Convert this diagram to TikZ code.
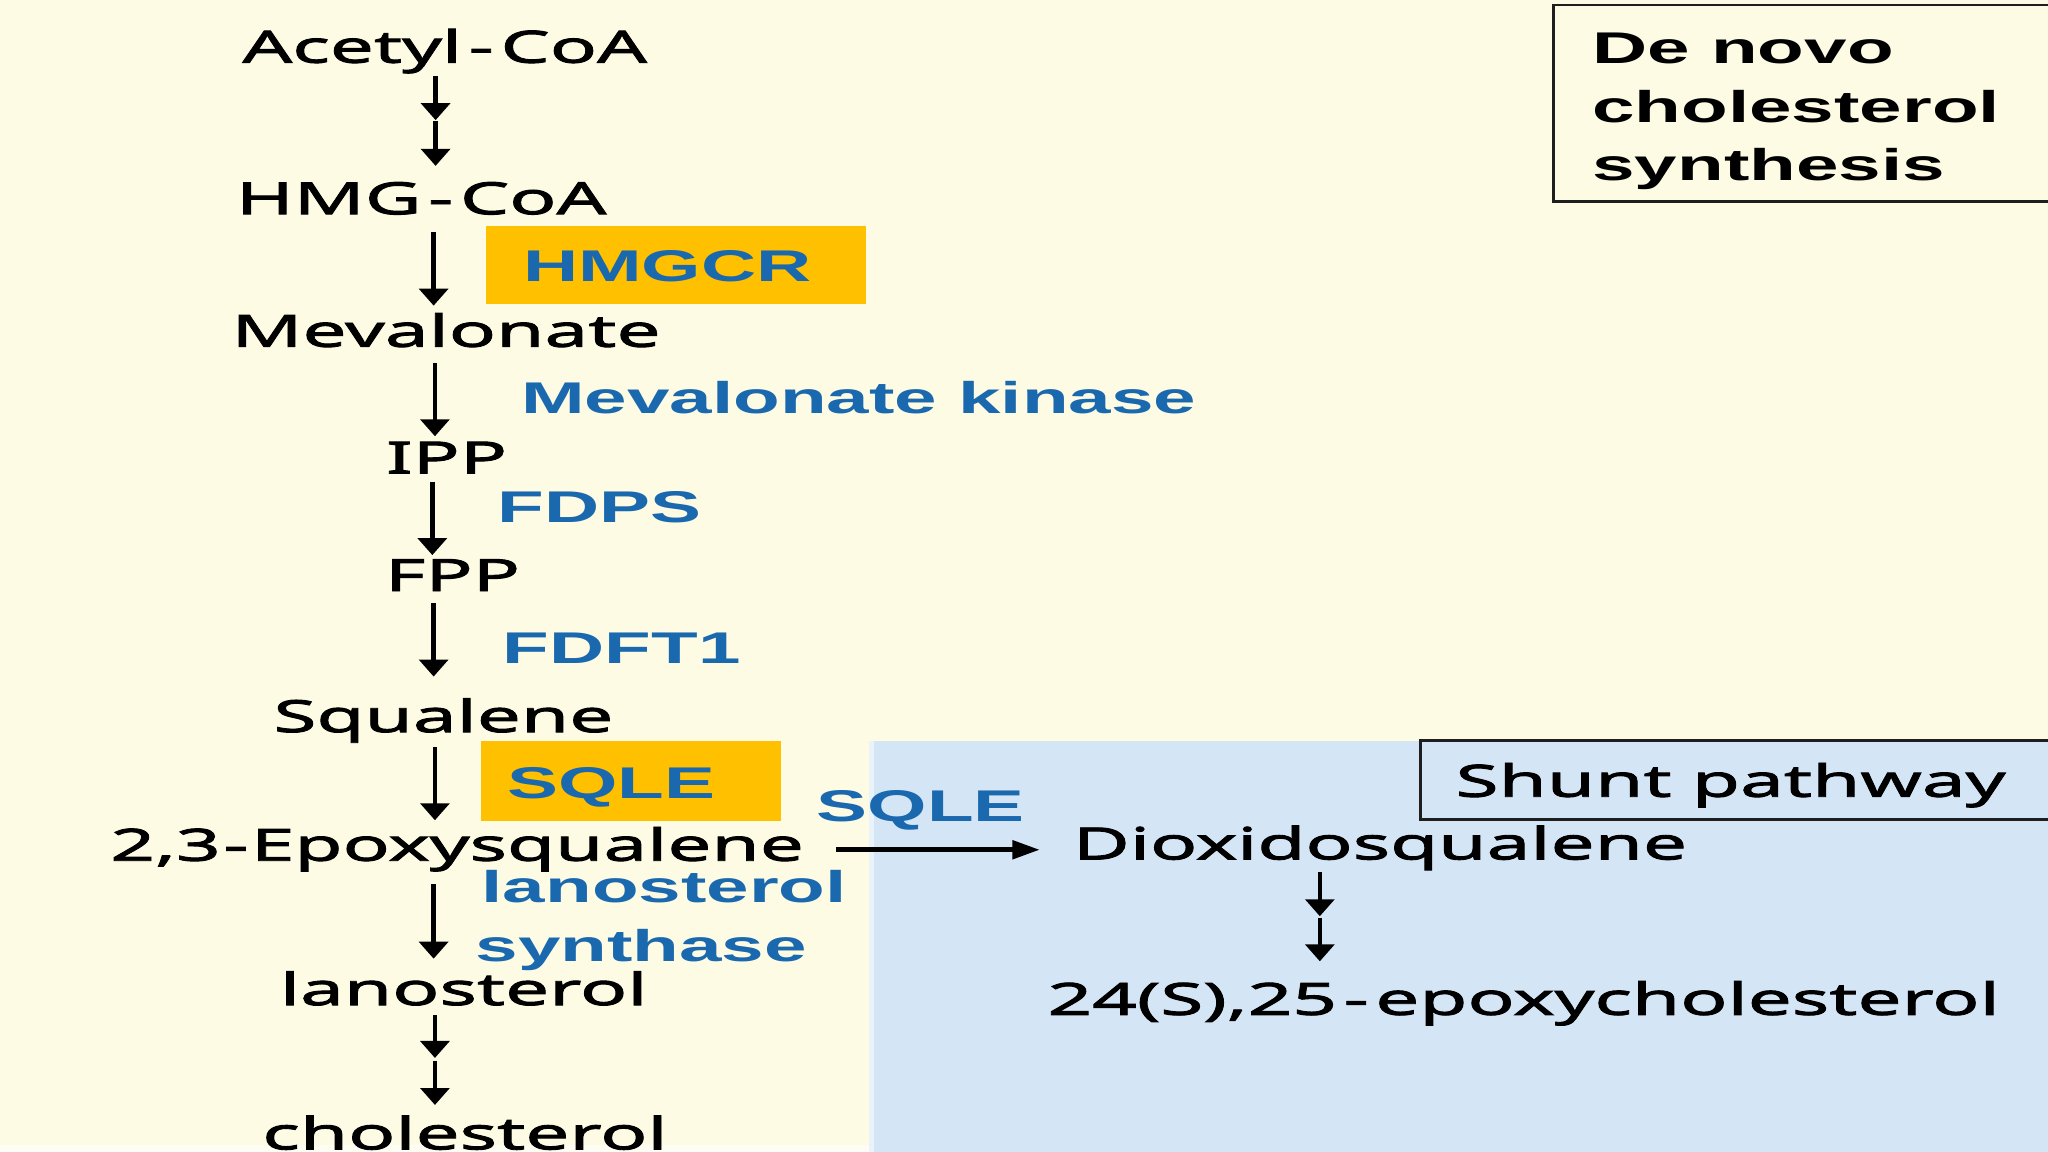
\documentclass[tikz,border=0pt]{standalone}
\usepackage{fontspec}
\usetikzlibrary{arrows.meta}
\newfontfamily\blkfont[FakeStretch=1.76,FakeBold=2]{Noto Sans}
\newfontfamily\bldfont[FakeStretch=1.72]{Liberation Sans}
\definecolor{creambg}{RGB}{253,251,228}
\definecolor{shuntbg}{RGB}{212,229,246}
\definecolor{enzorange}{RGB}{255,192,0}
\definecolor{enzblue}{RGB}{26,104,174}
\definecolor{framegray}{RGB}{30,30,30}
\newcommand{\hy}{\kern5pt-\kern5pt}
\tikzset{
  chem/.style={font={\blkfont\fontsize{34}{40}\selectfont}, text=black, inner sep=0pt, anchor=base},
  enz/.style={font={\bldfont\bfseries\fontsize{34}{40}\selectfont}, text=enzblue, inner sep=0pt, anchor=base},
  ttl/.style={font={\bldfont\bfseries\fontsize{34}{40}\selectfont}, text=black, inner sep=0pt, anchor=base west},
  arr/.style={line width=3.6pt, -{Triangle[width=22pt,length=13pt]}},
  harr/.style={line width=3.6pt, -{Triangle[width=14pt,length=21pt]}},
  frame/.style={draw=framegray, line width=2pt},
}
\begin{document}
\begin{tikzpicture}[x=1pt,y=-1pt]
\useasboundingbox (0,0) rectangle (1568,882);
\clip (0,0) rectangle (1568,882);
% backgrounds
\fill[creambg] (0,0) rectangle (1568,882);
\fill[white!60!creambg] (0,877) rectangle (669,882);
\fill[white!50!shuntbg] (665,567) rectangle (669,882);
\fill[shuntbg] (669,567) rectangle (1568,882);
% frames
\draw[frame] (1189.6,3.8) rectangle (1580,154.4);
\draw[frame] (1087.5,567) rectangle (1580,627.5);
% orange enzyme boxes
\fill[enzorange] (372,173) rectangle (663,233);
\fill[enzorange] (368,567) rectangle (598,628.6);

% title box text
\node[ttl] (t1) at (1219,48.5) {De novo};
\node[ttl] (t2) at (1219,94) {cholesterol};
\node[ttl] (t3) at (1219,138) {synthesis};
\node[chem] (shunt) at (1325,610) {Shunt pathway};

% main pathway
\node[chem] (acetyl) at (340.5,48) {Acetyl\hy CoA};
\node[chem] (hmgcoa) at (322.5,164) {HMG\hy CoA};
\node[chem] (meva) at (341.5,265.5) {Mevalonate};
\node[chem] (ipp) at (342,362.5) {IPP};
\node[chem] (fpp) at (346.5,452.5) {FPP};
\node[chem] (squal) at (339.5,560.5) {Squalene};
\node[chem] (epoxy) at (350,659) {2,3\kern2pt-\kern2pt Epoxysqualene};
\node[chem] (lano) at (355,769.5) {lanosterol};
\node[chem] (chol) at (356,880) {cholesterol};
\node[chem] (dioxi) at (1056.5,658) {Dioxidosqualene};
\node[chem] (epchol) at (1166.5,777) {24(S),25\hy epoxycholesterol};

% enzymes
\node[enz] (hmgcr) at (511,215.5) {HMGCR};
\node[enz] (mvk) at (657.5,316.5) {Mevalonate kinase};
\node[enz] (fdps) at (459,400) {FDPS};
\node[enz] (fdft) at (476,508) {FDFT1};
\node[enz] (sqle1) at (468,611) {SQLE};
\node[enz] (sqle2) at (705,629) {SQLE};
\node[enz] (lss1) at (508.5,691) {lanosterol};
\node[enz] (lss2) at (491,736) {synthase};

% arrow coordinates
\coordinate (a1s) at (333.5,58);
\coordinate (a1m) at (333.5,92);
\coordinate (a1m2) at (333.5,93);
\coordinate (a1e) at (333.5,127);
\coordinate (a2s) at (332,178);
\coordinate (a2e) at (332,234);
\coordinate (a3s) at (333,278);
\coordinate (a3e) at (333,334);
\coordinate (a4s) at (331,369);
\coordinate (a4e) at (331,425);
\coordinate (a5s) at (332,462);
\coordinate (a5e) at (332,518);
\coordinate (a6s) at (333,572);
\coordinate (a6e) at (333,628);
\coordinate (a7s) at (332,677);
\coordinate (a7e) at (332,734);
\coordinate (a8s) at (333,777);
\coordinate (a8m) at (333,810);
\coordinate (a8m2) at (333,812);
\coordinate (a8e) at (333,846);
\coordinate (hs) at (640,650.6);
\coordinate (he) at (796,650.6);
\coordinate (b1s) at (1010.5,668);
\coordinate (b1m) at (1010.5,701.5);
\coordinate (b1m2) at (1010.5,702.5);
\coordinate (b1e) at (1010.5,736);

\draw[arr] (a1s) -- (a1m);
\draw[arr] (a1m2) -- (a1e);
\draw[arr] (a2s) -- (a2e);
\draw[arr] (a3s) -- (a3e);
\draw[arr] (a4s) -- (a4e);
\draw[arr] (a5s) -- (a5e);
\draw[arr] (a6s) -- (a6e);
\draw[arr] (a7s) -- (a7e);
\draw[arr] (a8s) -- (a8m);
\draw[arr] (a8m2) -- (a8e);
\draw[harr] (hs) -- (he);
\draw[arr] (b1s) -- (b1m);
\draw[arr] (b1m2) -- (b1e);
\end{tikzpicture}
\end{document}
